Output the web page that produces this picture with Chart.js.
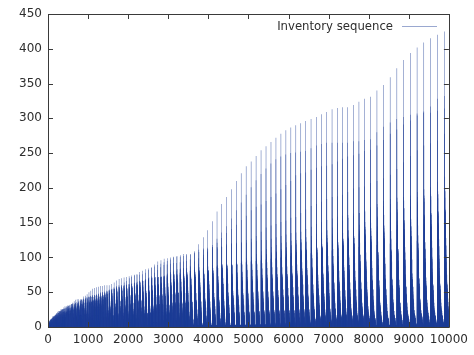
<!DOCTYPE html>
<html>
<head>
<meta charset="utf-8">
<script src="https://cdn.jsdelivr.net/npm/chart.js@4.4.1/dist/chart.umd.min.js"></script>
<style>
html,body{margin:0;padding:0;background:#fff;}
#wrap{width:474px;height:355px;position:relative;}
</style>
</head>
<body>
<div id="wrap"><canvas id="c" width="474" height="355"></canvas></div>
<script>
// Series: the inventory sequence (OEIS A342585), first 10000 terms, named in the legend.
const seriesName = "Inventory sequence";
const termCount = 10000;
const xTickValues = [0,1000,2000,3000,4000,5000,6000,7000,8000,9000,10000];
const yTickValues = [0,50,100,150,200,250,300,350,400,450];

// Build the sequence terms by its inventory definition.
const inventoryValues = [];
(function(){
  const counts = new Map();
  while (inventoryValues.length < termCount) {
    let i = 0;
    while (inventoryValues.length < termCount) {
      const c = counts.get(i) || 0;
      inventoryValues.push(c);
      counts.set(c, (counts.get(c) || 0) + 1);
      if (c === 0) break;
      i++;
    }
  }
})();
const indices = inventoryValues.map((v, k) => k);

const barColor = 'rgb(30,62,150)';
const frameColor = '#3a3a3a';
const textColor = '#2e2e2e';
const FONT = '"DejaVu Sans", sans-serif';

const framePlugin = {
  id: 'gnuframe',
  afterDatasetsDraw(chart) {
    const {ctx, chartArea: a, scales} = chart;
    ctx.save();
    ctx.strokeStyle = frameColor;
    ctx.lineWidth = 1;
    ctx.beginPath();
    ctx.rect(Math.round(a.left)+0.5, Math.round(a.top)+0.5, Math.round(a.right-a.left), Math.round(a.bottom-a.top));
    ctx.stroke();
    const tl = 5;
    ctx.beginPath();
    xTickValues.forEach(v => {
      const x = Math.round(scales.x.getPixelForValue(v)) + 0.5;
      ctx.moveTo(x, a.bottom); ctx.lineTo(x, a.bottom - tl);
      ctx.moveTo(x, a.top); ctx.lineTo(x, a.top + tl);
    });
    yTickValues.forEach(v => {
      const y = Math.round(scales.y.getPixelForValue(v)) + 0.5;
      ctx.moveTo(a.left, y); ctx.lineTo(a.left + tl, y);
      ctx.moveTo(a.right, y); ctx.lineTo(a.right - tl, y);
    });
    ctx.stroke();
    // key
    ctx.font = '11.7px ' + FONT;
    ctx.fillStyle = textColor;
    ctx.textAlign = 'right';
    ctx.textBaseline = 'middle';
    ctx.fillText(seriesName, 393, 27);
    ctx.strokeStyle = barColor;
    ctx.globalAlpha = 0.45;
    ctx.beginPath();
    ctx.moveTo(402, 26.5); ctx.lineTo(437, 26.5);
    ctx.stroke();
    ctx.restore();
  }
};

new Chart(document.getElementById('c'), {
  type: 'bar',
  data: {
    datasets: [{
      label: seriesName,
      data: indices.map((k) => ({x: k, y: inventoryValues[k]})),
      backgroundColor: barColor,
      borderWidth: 0,
      barThickness: 0.4,
      inflateAmount: 0,
      borderSkipped: false
    }]
  },
  options: {
    responsive: false,
    animation: false,
    parsing: false,
    normalized: true,
    events: [],
    layout: {padding: {left: 0, right: 23, top: 14, bottom: 0}},
    plugins: {legend: {display: false}, tooltip: {enabled: false}},
    scales: {
      x: {
        type: 'linear', min: 0, max: 10000, offset: false,
        afterBuildTicks(s){ s.ticks = xTickValues.map(v => ({value: v})); },
        afterFit(s){ s.height = 28; },
        grid: {display: false, drawTicks: false, offset: false},
        border: {display: false},
        ticks: {color: textColor, font: {family: FONT, size: 12}, padding: 6, maxRotation: 0, autoSkip: false,
                callback: v => String(v)}
      },
      y: {
        type: 'linear', min: 0, max: 450,
        afterBuildTicks(s){ s.ticks = yTickValues.map(v => ({value: v})); },
        afterFit(s){ s.width = 48; },
        grid: {display: false, drawTicks: false},
        border: {display: false},
        ticks: {color: textColor, font: {family: FONT, size: 12}, padding: 6, autoSkip: false,
                callback: v => String(v)}
      }
    }
  },
  plugins: [framePlugin]
});
</script>
</body>
</html>
